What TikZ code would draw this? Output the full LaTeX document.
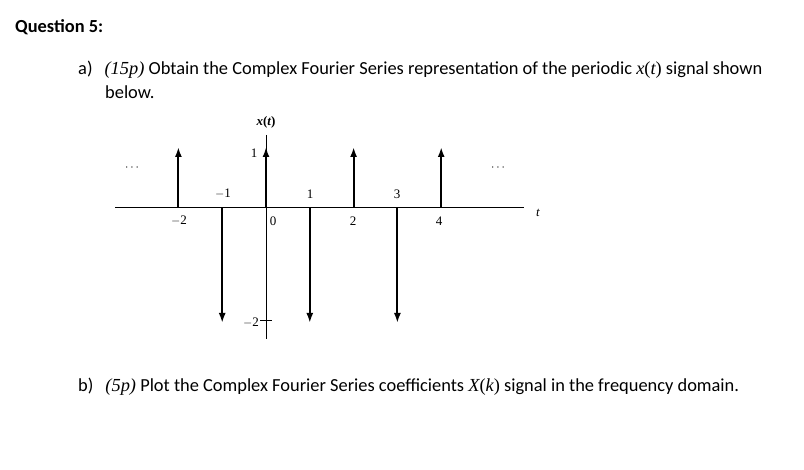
\documentclass[tikz,border=0pt]{standalone}
\usepackage{fontspec}
\usetikzlibrary{arrows.meta}
\setmainfont{Carlito}
\newfontfamily\tms{Liberation Serif}
\begin{document}
\begin{tikzpicture}[x=1pt,y=-1pt,
  txt/.style={anchor=base west,inner sep=0pt,font=\fontsize{18.4}{22}\selectfont},
  lab/.style={inner sep=1pt,font=\tms\fontsize{13}{15}\selectfont},
  imp/.style={line width=2pt,-{Latex[length=10pt,width=7pt]}}]
\useasboundingbox (0,0) rectangle (804,470);
\node[txt,font=\bfseries\fontsize{18.4}{22}\selectfont] (q) at (15,33) {Question 5:};
\node[txt] (a) at (78,75) {a)\hspace{12pt}{\tms\itshape (15p)} Obtain the Complex Fourier Series representation of the periodic {\tms\itshape x}{\tms(}{\tms\itshape t}{\tms)} signal shown};
\node[txt] (a2) at (105,99) {below.};
\node[txt] (b) at (78,392) {b)\hspace{12pt}{\tms\itshape (5p)} Plot the Complex Fourier Series coefficients {\tms\itshape X}{\tms(}{\tms\itshape k}{\tms)} signal in the frequency domain.};
% axes
\coordinate (L) at (115,207.5);
\coordinate (R) at (524,207.5);
\draw[line width=1pt] (L) -- (R);
\coordinate (T) at (266,135);
\coordinate (B) at (266,339);
\draw[line width=1pt] (T) -- (B);
\coordinate (tk1) at (260,321); \coordinate (tk2) at (272,321);
\draw[line width=1pt] (tk1) -- (tk2);
\node[lab] (xt) at (266,122) {\bfseries\itshape x\upshape(\itshape t\upshape)};
\node[lab] (tl) at (538,213) {\itshape t};
\node[lab] (d1) at (132,168) {$\cdots$};
\node[lab] (d2) at (498,168) {$\cdots$};
\node[lab] (one) at (254,153) {1};
\node[lab] (m2) at (251,323) {$-$2};
\foreach \x/\u in {-2/1,-1/0,0/1,1/0,2/1,3/0,4/1}{
  \coordinate (p\x) at ({266+43.8*\x},207.5);
  \ifnum\u=1
    \coordinate (e\x) at ({266+43.8*\x},147);
  \else
    \coordinate (e\x) at ({266+43.8*\x},323);
  \fi
  \draw[imp] (p\x) -- (e\x);
}
\node[lab] (n-2) at (179,221) {$-$2};
\node[lab] (n0) at (273,221) {0};
\node[lab] (n2) at (353,221) {2};
\node[lab] (n4) at (439,221) {4};
\node[lab] (n-1) at (223,194) {$-$1};
\node[lab] (n1) at (310,194) {1};
\node[lab] (n3) at (397,194) {3};
\end{tikzpicture}
\end{document}
